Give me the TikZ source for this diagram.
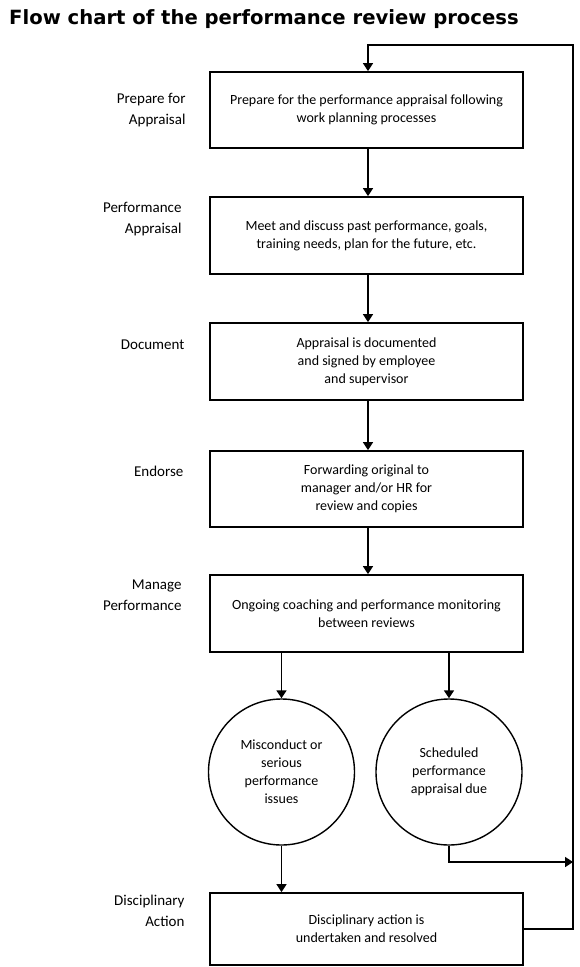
\documentclass[tikz,border=0pt]{standalone}
\usepackage{fontspec}
\setmainfont{Carlito}
\newfontfamily\titlefont{DejaVu Sans}
\usetikzlibrary{arrows.meta}
\begin{document}
\begin{tikzpicture}[x=1pt,y=-1pt,
  stepbox/.style={draw,line width=1.8pt,minimum width=313pt,align=center,inner sep=0pt,font=\fontsize{14}{18}\selectfont},
  circ/.style={draw,circle,line width=1.4pt,minimum size=146pt,align=center,inner sep=0pt,font=\fontsize{14}{18}\selectfont},
  lab/.style={anchor=east,align=right,font=\fontsize{15}{20.5}\selectfont},
  arr/.style={line width=1.7pt,-{Triangle[width=10pt,length=8pt]}}]
\useasboundingbox (0,0) rectangle (580,967);
\node[anchor=base west,inner sep=0pt,font=\titlefont\bfseries\fontsize{19.6}{22}\selectfont] (title) at (9,24) {Flow chart of the performance review process};

\node[stepbox,minimum height=76pt] (b1) at (366.5,110) {Prepare for the performance appraisal following\\work planning processes};
\node[stepbox,minimum height=77pt] (b2) at (366.5,235.5) {Meet and discuss past performance, goals,\\training needs, plan for the future, etc.};
\node[stepbox,minimum height=77pt] (b3) at (366.5,361.5) {Appraisal is documented\\and signed by employee\\and supervisor};
\node[stepbox,minimum height=76pt] (b4) at (366.5,489) {Forwarding original to\\manager and/or HR for\\review and copies};
\node[stepbox,minimum height=77pt] (b5) at (366.5,613.5) {Ongoing coaching and performance monitoring\\between reviews};
\node[stepbox,minimum height=72pt] (b6) at (366.5,929) {Disciplinary action is\\undertaken and resolved};

\node[circ] (c1) at (281.5,772) {Misconduct or\\serious\\performance\\issues};
\node[circ] (c2) at (449,772) {Scheduled\\performance\\appraisal due};

\node[lab] (l1) at (189,110) {Prepare for\\Appraisal};
\node[lab] (l2) at (185,219) {Performance\\Appraisal};
\node[lab] (l3) at (188,345) {Document};
\node[lab] (l4) at (187,471) {Endorse};
\node[lab] (l5) at (185,595) {Manage\\Performance};
\node[lab] (l6) at (188,911) {Disciplinary\\Action};

\coordinate (tl) at (368,45);
\coordinate (tr) at (573,45);
\coordinate (rin) at (573,862);

\draw[arr] (b1.south -| tl) -- (b2.north -| tl);
\draw[arr] (b2.south -| tl) -- (b3.north -| tl);
\draw[arr] (b3.south -| tl) -- (b4.north -| tl);
\draw[arr] (b4.south -| tl) -- (b5.north -| tl);
\draw[arr] (b5.south -| c1) -- (c1.north);
\draw[arr] (b5.south -| c2) -- (c2.north);
\draw[arr] (c1.south) -- (b6.north -| c1);
\draw[arr] (c2.south) |- (rin);
\draw[arr] (b6.east) -| (tr) -- (tl) -- (b1.north -| tl);
\end{tikzpicture}
\end{document}
